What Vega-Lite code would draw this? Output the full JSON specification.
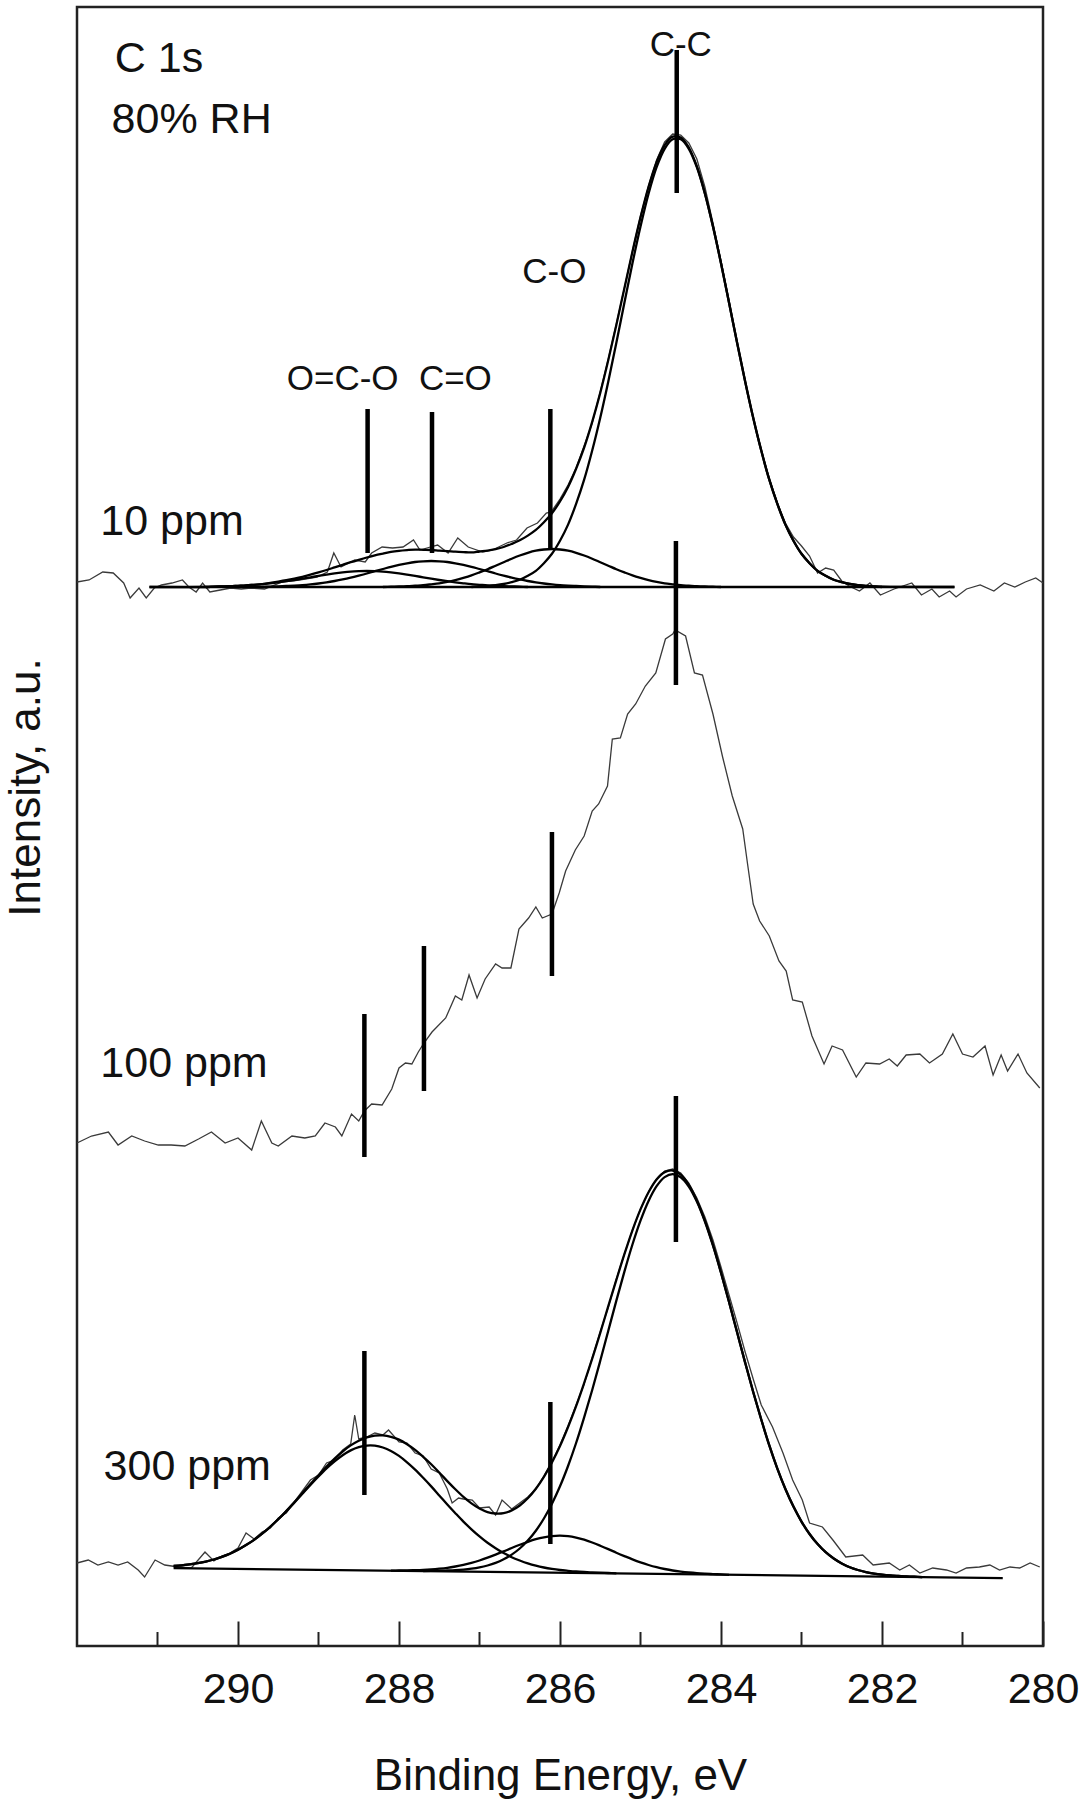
{
  "$schema": "https://vega.github.io/schema/vega-lite/v6.json",
  "width": 966,
  "height": 1639,
  "autosize": "none",
  "padding": {"left": 77, "top": 7, "right": 37, "bottom": 154},
  "background": "white",
  "config": {
    "font": "Liberation Sans",
    "view": {"stroke": "#222", "strokeWidth": 2.5}
  },
  "datasets": {
    "raw": [
      {"s":"r10","e":292.0,"i":1067},{"s":"r10","e":291.85,"i":1069},{"s":"r10","e":291.68,"i":1077},{"s":"r10","e":291.55,"i":1076},{"s":"r10","e":291.42,"i":1066},{"s":"r10","e":291.34,"i":1051},{"s":"r10","e":291.23,"i":1061},{"s":"r10","e":291.14,"i":1051},{"s":"r10","e":291.04,"i":1061},{"s":"r10","e":290.95,"i":1064},{"s":"r10","e":290.82,"i":1066},{"s":"r10","e":290.69,"i":1069},{"s":"r10","e":290.61,"i":1062},{"s":"r10","e":290.52,"i":1057},{"s":"r10","e":290.44,"i":1066},{"s":"r10","e":290.35,"i":1057},{"s":"r10","e":290.22,"i":1059},{"s":"r10","e":290.09,"i":1061},{"s":"r10","e":289.96,"i":1060},{"s":"r10","e":289.84,"i":1061},{"s":"r10","e":289.67,"i":1060},{"s":"r10","e":289.45,"i":1067},{"s":"r10","e":289.24,"i":1069},{"s":"r10","e":289.02,"i":1072},{"s":"r10","e":288.89,"i":1077},{"s":"r10","e":288.81,"i":1096},{"s":"r10","e":288.72,"i":1082},{"s":"r10","e":288.55,"i":1089},{"s":"r10","e":288.42,"i":1087},{"s":"r10","e":288.34,"i":1096},{"s":"r10","e":288.21,"i":1102},{"s":"r10","e":288.08,"i":1101},{"s":"r10","e":287.95,"i":1102},{"s":"r10","e":287.82,"i":1109},{"s":"r10","e":287.74,"i":1099},{"s":"r10","e":287.61,"i":1102},{"s":"r10","e":287.52,"i":1104},{"s":"r10","e":287.39,"i":1096},{"s":"r10","e":287.27,"i":1111},{"s":"r10","e":287.14,"i":1102},{"s":"r10","e":286.96,"i":1097},{"s":"r10","e":286.84,"i":1099},{"s":"r10","e":286.66,"i":1106},{"s":"r10","e":286.54,"i":1109},{"s":"r10","e":286.41,"i":1121},{"s":"r10","e":286.28,"i":1126},{"s":"r10","e":286.17,"i":1136},{"s":"r10","e":286.11,"i":1137},{"s":"r10","e":286.0,"i":1150},{"s":"r10","e":285.9,"i":1164},{"s":"r10","e":285.8,"i":1181},{"s":"r10","e":285.7,"i":1203},{"s":"r10","e":285.6,"i":1226},{"s":"r10","e":285.5,"i":1257},{"s":"r10","e":285.4,"i":1290},{"s":"r10","e":285.3,"i":1325},{"s":"r10","e":285.2,"i":1361},{"s":"r10","e":285.1,"i":1398},{"s":"r10","e":285.0,"i":1433},{"s":"r10","e":284.9,"i":1463},{"s":"r10","e":284.8,"i":1489},{"s":"r10","e":284.7,"i":1507},{"s":"r10","e":284.6,"i":1515},{"s":"r10","e":284.5,"i":1514},{"s":"r10","e":284.4,"i":1506},{"s":"r10","e":284.3,"i":1490},{"s":"r10","e":284.2,"i":1462},{"s":"r10","e":284.1,"i":1426},{"s":"r10","e":284.0,"i":1388},{"s":"r10","e":283.9,"i":1348},{"s":"r10","e":283.8,"i":1307},{"s":"r10","e":283.7,"i":1268},{"s":"r10","e":283.6,"i":1231},{"s":"r10","e":283.5,"i":1199},{"s":"r10","e":283.4,"i":1170},{"s":"r10","e":283.3,"i":1146},{"s":"r10","e":283.2,"i":1126},{"s":"r10","e":283.1,"i":1112},{"s":"r10","e":283.0,"i":1103},{"s":"r10","e":282.9,"i":1093},{"s":"r10","e":282.8,"i":1076},{"s":"r10","e":282.7,"i":1081},{"s":"r10","e":282.6,"i":1079},{"s":"r10","e":282.5,"i":1068},{"s":"r10","e":282.41,"i":1063},{"s":"r10","e":282.28,"i":1058},{"s":"r10","e":282.15,"i":1066},{"s":"r10","e":282.02,"i":1054},{"s":"r10","e":281.85,"i":1060},{"s":"r10","e":281.63,"i":1066},{"s":"r10","e":281.51,"i":1054},{"s":"r10","e":281.38,"i":1060},{"s":"r10","e":281.29,"i":1052},{"s":"r10","e":281.16,"i":1058},{"s":"r10","e":281.08,"i":1052},{"s":"r10","e":280.95,"i":1060},{"s":"r10","e":280.78,"i":1064},{"s":"r10","e":280.61,"i":1058},{"s":"r10","e":280.48,"i":1066},{"s":"r10","e":280.35,"i":1062},{"s":"r10","e":280.22,"i":1067},{"s":"r10","e":280.09,"i":1071},{"s":"r10","e":280.0,"i":1066},
      {"s":"r100","e":292.0,"i":506},{"s":"r100","e":291.82,"i":513},{"s":"r100","e":291.61,"i":517},{"s":"r100","e":291.49,"i":504},{"s":"r100","e":291.32,"i":513},{"s":"r100","e":291.16,"i":508},{"s":"r100","e":290.99,"i":504},{"s":"r100","e":290.83,"i":504},{"s":"r100","e":290.66,"i":503},{"s":"r100","e":290.49,"i":510},{"s":"r100","e":290.33,"i":517},{"s":"r100","e":290.16,"i":506},{"s":"r100","e":290.0,"i":511},{"s":"r100","e":289.83,"i":499},{"s":"r100","e":289.71,"i":528},{"s":"r100","e":289.58,"i":506},{"s":"r100","e":289.5,"i":503},{"s":"r100","e":289.33,"i":513},{"s":"r100","e":289.17,"i":511},{"s":"r100","e":289.04,"i":513},{"s":"r100","e":288.92,"i":526},{"s":"r100","e":288.79,"i":522},{"s":"r100","e":288.71,"i":513},{"s":"r100","e":288.59,"i":535},{"s":"r100","e":288.5,"i":528},{"s":"r100","e":288.43,"i":538},{"s":"r100","e":288.34,"i":545},{"s":"r100","e":288.21,"i":544},{"s":"r100","e":288.09,"i":560},{"s":"r100","e":288.0,"i":581},{"s":"r100","e":287.92,"i":586},{"s":"r100","e":287.84,"i":585},{"s":"r100","e":287.76,"i":597},{"s":"r100","e":287.69,"i":606},{"s":"r100","e":287.59,"i":617},{"s":"r100","e":287.42,"i":631},{"s":"r100","e":287.3,"i":653},{"s":"r100","e":287.22,"i":649},{"s":"r100","e":287.13,"i":674},{"s":"r100","e":287.03,"i":651},{"s":"r100","e":286.93,"i":670},{"s":"r100","e":286.8,"i":685},{"s":"r100","e":286.72,"i":681},{"s":"r100","e":286.61,"i":681},{"s":"r100","e":286.51,"i":720},{"s":"r100","e":286.39,"i":731},{"s":"r100","e":286.3,"i":742},{"s":"r100","e":286.22,"i":731},{"s":"r100","e":286.1,"i":735},{"s":"r100","e":286.01,"i":756},{"s":"r100","e":285.93,"i":778},{"s":"r100","e":285.81,"i":799},{"s":"r100","e":285.7,"i":813},{"s":"r100","e":285.6,"i":838},{"s":"r100","e":285.52,"i":845},{"s":"r100","e":285.41,"i":863},{"s":"r100","e":285.35,"i":910},{"s":"r100","e":285.25,"i":911},{"s":"r100","e":285.16,"i":935},{"s":"r100","e":285.06,"i":945},{"s":"r100","e":284.94,"i":963},{"s":"r100","e":284.81,"i":976},{"s":"r100","e":284.69,"i":1010},{"s":"r100","e":284.6,"i":1015},{"s":"r100","e":284.57,"i":1019},{"s":"r100","e":284.44,"i":1013},{"s":"r100","e":284.33,"i":976},{"s":"r100","e":284.23,"i":974},{"s":"r100","e":284.1,"i":935},{"s":"r100","e":283.98,"i":892},{"s":"r100","e":283.86,"i":853},{"s":"r100","e":283.73,"i":820},{"s":"r100","e":283.67,"i":785},{"s":"r100","e":283.6,"i":745},{"s":"r100","e":283.52,"i":728},{"s":"r100","e":283.4,"i":713},{"s":"r100","e":283.28,"i":688},{"s":"r100","e":283.19,"i":678},{"s":"r100","e":283.11,"i":649},{"s":"r100","e":282.99,"i":647},{"s":"r100","e":282.87,"i":613},{"s":"r100","e":282.72,"i":585},{"s":"r100","e":282.62,"i":603},{"s":"r100","e":282.49,"i":599},{"s":"r100","e":282.32,"i":572},{"s":"r100","e":282.2,"i":586},{"s":"r100","e":282.03,"i":585},{"s":"r100","e":281.91,"i":590},{"s":"r100","e":281.81,"i":583},{"s":"r100","e":281.7,"i":594},{"s":"r100","e":281.53,"i":595},{"s":"r100","e":281.41,"i":586},{"s":"r100","e":281.25,"i":595},{"s":"r100","e":281.12,"i":615},{"s":"r100","e":281.0,"i":595},{"s":"r100","e":280.87,"i":592},{"s":"r100","e":280.72,"i":603},{"s":"r100","e":280.62,"i":574},{"s":"r100","e":280.52,"i":594},{"s":"r100","e":280.44,"i":578},{"s":"r100","e":280.31,"i":595},{"s":"r100","e":280.2,"i":576},{"s":"r100","e":280.04,"i":561},
      {"s":"r300","e":292.0,"i":86},{"s":"r300","e":291.86,"i":89},{"s":"r300","e":291.74,"i":84},{"s":"r300","e":291.61,"i":87},{"s":"r300","e":291.49,"i":84},{"s":"r300","e":291.37,"i":87},{"s":"r300","e":291.24,"i":79},{"s":"r300","e":291.16,"i":72},{"s":"r300","e":291.03,"i":89},{"s":"r300","e":290.91,"i":84},{"s":"r300","e":290.74,"i":82},{"s":"r300","e":290.58,"i":81},{"s":"r300","e":290.41,"i":97},{"s":"r300","e":290.3,"i":88},{"s":"r300","e":290.2,"i":93},{"s":"r300","e":290.1,"i":96},{"s":"r300","e":290.0,"i":101},{"s":"r300","e":289.9,"i":116},{"s":"r300","e":289.8,"i":110},{"s":"r300","e":289.7,"i":117},{"s":"r300","e":289.6,"i":121},{"s":"r300","e":289.5,"i":131},{"s":"r300","e":289.4,"i":136},{"s":"r300","e":289.3,"i":147},{"s":"r300","e":289.2,"i":158},{"s":"r300","e":289.1,"i":169},{"s":"r300","e":289.0,"i":174},{"s":"r300","e":288.9,"i":186},{"s":"r300","e":288.8,"i":189},{"s":"r300","e":288.7,"i":199},{"s":"r300","e":288.6,"i":205},{"s":"r300","e":288.55,"i":234},{"s":"r300","e":288.5,"i":210},{"s":"r300","e":288.4,"i":212},{"s":"r300","e":288.3,"i":216},{"s":"r300","e":288.2,"i":214},{"s":"r300","e":288.13,"i":219},{"s":"r300","e":288.0,"i":207},{"s":"r300","e":287.9,"i":206},{"s":"r300","e":287.8,"i":196},{"s":"r300","e":287.7,"i":193},{"s":"r300","e":287.6,"i":180},{"s":"r300","e":287.5,"i":176},{"s":"r300","e":287.4,"i":160},{"s":"r300","e":287.34,"i":146},{"s":"r300","e":287.26,"i":151},{"s":"r300","e":287.2,"i":150},{"s":"r300","e":287.09,"i":149},{"s":"r300","e":287.0,"i":141},{"s":"r300","e":286.88,"i":142},{"s":"r300","e":286.8,"i":134},{"s":"r300","e":286.72,"i":149},{"s":"r300","e":286.6,"i":140},{"s":"r300","e":286.5,"i":146},{"s":"r300","e":286.4,"i":152},{"s":"r300","e":286.3,"i":160},{"s":"r300","e":286.2,"i":173},{"s":"r300","e":286.1,"i":187},{"s":"r300","e":286.0,"i":204},{"s":"r300","e":285.9,"i":223},{"s":"r300","e":285.8,"i":244},{"s":"r300","e":285.7,"i":265},{"s":"r300","e":285.6,"i":291},{"s":"r300","e":285.5,"i":317},{"s":"r300","e":285.4,"i":342},{"s":"r300","e":285.3,"i":370},{"s":"r300","e":285.2,"i":395},{"s":"r300","e":285.1,"i":419},{"s":"r300","e":285.0,"i":440},{"s":"r300","e":284.9,"i":457},{"s":"r300","e":284.8,"i":470},{"s":"r300","e":284.7,"i":478},{"s":"r300","e":284.6,"i":480},{"s":"r300","e":284.5,"i":476},{"s":"r300","e":284.4,"i":466},{"s":"r300","e":284.3,"i":451},{"s":"r300","e":284.2,"i":432},{"s":"r300","e":284.1,"i":409},{"s":"r300","e":284.0,"i":382},{"s":"r300","e":283.9,"i":354},{"s":"r300","e":283.8,"i":326},{"s":"r300","e":283.7,"i":297},{"s":"r300","e":283.6,"i":270},{"s":"r300","e":283.5,"i":244},{"s":"r300","e":283.36,"i":222},{"s":"r300","e":283.23,"i":196},{"s":"r300","e":283.11,"i":169},{"s":"r300","e":282.99,"i":149},{"s":"r300","e":282.9,"i":126},{"s":"r300","e":282.74,"i":122},{"s":"r300","e":282.61,"i":109},{"s":"r300","e":282.45,"i":92},{"s":"r300","e":282.24,"i":94},{"s":"r300","e":282.11,"i":84},{"s":"r300","e":281.91,"i":86},{"s":"r300","e":281.78,"i":79},{"s":"r300","e":281.66,"i":84},{"s":"r300","e":281.53,"i":76},{"s":"r300","e":281.37,"i":81},{"s":"r300","e":281.2,"i":79},{"s":"r300","e":281.08,"i":76},{"s":"r300","e":280.95,"i":81},{"s":"r300","e":280.79,"i":82},{"s":"r300","e":280.66,"i":84},{"s":"r300","e":280.54,"i":79},{"s":"r300","e":280.41,"i":82},{"s":"r300","e":280.29,"i":81},{"s":"r300","e":280.16,"i":86},{"s":"r300","e":280.04,"i":82}
    ],
    "fit": [
      {"c":"b10","e":291.1,"i":1062},{"c":"b10","e":281.1,"i":1062},
      {"c":"env10","e":291.1,"i":1062},{"c":"env10","e":290.4,"i":1062},{"c":"env10","e":290.3,"i":1062.4},{"c":"env10","e":290.2,"i":1062.6},{"c":"env10","e":290.1,"i":1062.8},{"c":"env10","e":290.0,"i":1063.2},{"c":"env10","e":289.9,"i":1063.6},{"c":"env10","e":289.8,"i":1064.2},{"c":"env10","e":289.7,"i":1064.8},{"c":"env10","e":289.6,"i":1066.1},{"c":"env10","e":289.5,"i":1067.4},{"c":"env10","e":289.4,"i":1068.8},{"c":"env10","e":289.3,"i":1070.4},{"c":"env10","e":289.2,"i":1072.2},{"c":"env10","e":289.1,"i":1074.3},{"c":"env10","e":289.0,"i":1076.6},{"c":"env10","e":288.9,"i":1079.0},{"c":"env10","e":288.8,"i":1081.6},{"c":"env10","e":288.7,"i":1084.2},{"c":"env10","e":288.6,"i":1086.8},{"c":"env10","e":288.5,"i":1089.2},{"c":"env10","e":288.4,"i":1091.5},{"c":"env10","e":288.3,"i":1093.6},{"c":"env10","e":288.2,"i":1095.4},{"c":"env10","e":288.1,"i":1097.1},{"c":"env10","e":288.0,"i":1098.2},{"c":"env10","e":287.9,"i":1098.9},{"c":"env10","e":287.8,"i":1099.4},{"c":"env10","e":287.7,"i":1099.2},{"c":"env10","e":287.6,"i":1099.0},{"c":"env10","e":287.5,"i":1098.4},{"c":"env10","e":287.4,"i":1097.9},{"c":"env10","e":287.3,"i":1097.3},{"c":"env10","e":287.2,"i":1096.9},{"c":"env10","e":287.1,"i":1096.6},{"c":"env10","e":287.0,"i":1097.5},{"c":"env10","e":286.9,"i":1098.4},{"c":"env10","e":286.8,"i":1099.9},{"c":"env10","e":286.7,"i":1102.0},{"c":"env10","e":286.6,"i":1105.1},{"c":"env10","e":286.5,"i":1108.7},{"c":"env10","e":286.4,"i":1113.4},{"c":"env10","e":286.3,"i":1119.1},{"c":"env10","e":286.2,"i":1126.8},{"c":"env10","e":286.1,"i":1135.8},{"c":"env10","e":286.0,"i":1147.6},{"c":"env10","e":285.9,"i":1162.1},{"c":"env10","e":285.8,"i":1180.3},{"c":"env10","e":285.7,"i":1201.5},{"c":"env10","e":285.6,"i":1227.2},{"c":"env10","e":285.5,"i":1256.1},{"c":"env10","e":285.4,"i":1288.9},{"c":"env10","e":285.3,"i":1324.1},{"c":"env10","e":285.2,"i":1360.8},{"c":"env10","e":285.1,"i":1397.3},{"c":"env10","e":285.0,"i":1431.6},{"c":"env10","e":284.9,"i":1462.2},{"c":"env10","e":284.8,"i":1486.9},{"c":"env10","e":284.7,"i":1503.9},{"c":"env10","e":284.6,"i":1512.4},{"c":"env10","e":284.5,"i":1511.5},{"c":"env10","e":284.4,"i":1501.5},{"c":"env10","e":284.3,"i":1482.6},{"c":"env10","e":284.2,"i":1455.8},{"c":"env10","e":284.1,"i":1422.8},{"c":"env10","e":284.0,"i":1385.7},{"c":"env10","e":283.9,"i":1346.2},{"c":"env10","e":283.8,"i":1306.3},{"c":"env10","e":283.7,"i":1267.6},{"c":"env10","e":283.6,"i":1231.3},{"c":"env10","e":283.5,"i":1198.5},{"c":"env10","e":283.4,"i":1169.3},{"c":"env10","e":283.3,"i":1145.1},{"c":"env10","e":283.2,"i":1124.4},{"c":"env10","e":283.1,"i":1108.2},{"c":"env10","e":283.0,"i":1095.2},{"c":"env10","e":282.9,"i":1085.8},{"c":"env10","e":282.8,"i":1078.2},{"c":"env10","e":282.7,"i":1073.2},{"c":"env10","e":282.6,"i":1069.2},{"c":"env10","e":282.5,"i":1066.8},{"c":"env10","e":282.4,"i":1065.0},{"c":"env10","e":282.3,"i":1063.9},{"c":"env10","e":282.2,"i":1063.2},{"c":"env10","e":282.1,"i":1062.7},{"c":"env10","e":282.0,"i":1062.3},{"c":"env10","e":281.1,"i":1062},
      {"c":"cc10","e":287.1,"i":1062.0},{"c":"cc10","e":287.0,"i":1062.7},{"c":"cc10","e":286.9,"i":1063.2},{"c":"cc10","e":286.8,"i":1063.9},{"c":"cc10","e":286.7,"i":1065.0},{"c":"cc10","e":286.6,"i":1066.8},{"c":"cc10","e":286.5,"i":1069.2},{"c":"cc10","e":286.4,"i":1073.2},{"c":"cc10","e":286.3,"i":1078.2},{"c":"cc10","e":286.2,"i":1085.8},{"c":"cc10","e":286.1,"i":1095.2},{"c":"cc10","e":286.0,"i":1108.2},{"c":"cc10","e":285.9,"i":1124.4},{"c":"cc10","e":285.8,"i":1145.1},{"c":"cc10","e":285.7,"i":1169.3},{"c":"cc10","e":285.6,"i":1198.5},{"c":"cc10","e":285.5,"i":1231.3},{"c":"cc10","e":285.4,"i":1267.6},{"c":"cc10","e":285.3,"i":1306.3},{"c":"cc10","e":285.2,"i":1346.2},{"c":"cc10","e":285.1,"i":1385.7},{"c":"cc10","e":285.0,"i":1422.5},{"c":"cc10","e":284.9,"i":1455.3},{"c":"cc10","e":284.8,"i":1481.8},{"c":"cc10","e":284.7,"i":1500.2},{"c":"cc10","e":284.6,"i":1509.7},{"c":"cc10","e":284.5,"i":1509.7},{"c":"cc10","e":284.4,"i":1500.2},{"c":"cc10","e":284.3,"i":1481.8},{"c":"cc10","e":284.2,"i":1455.3},{"c":"cc10","e":284.1,"i":1422.5},{"c":"cc10","e":284.0,"i":1385.7},{"c":"cc10","e":283.9,"i":1346.2},{"c":"cc10","e":283.8,"i":1306.3},{"c":"cc10","e":283.7,"i":1267.6},{"c":"cc10","e":283.6,"i":1231.3},{"c":"cc10","e":283.5,"i":1198.5},{"c":"cc10","e":283.4,"i":1169.3},{"c":"cc10","e":283.3,"i":1145.1},{"c":"cc10","e":283.2,"i":1124.4},{"c":"cc10","e":283.1,"i":1108.2},{"c":"cc10","e":283.0,"i":1095.2},{"c":"cc10","e":282.9,"i":1085.8},{"c":"cc10","e":282.8,"i":1078.2},{"c":"cc10","e":282.7,"i":1073.2},{"c":"cc10","e":282.6,"i":1069.2},{"c":"cc10","e":282.5,"i":1066.8},{"c":"cc10","e":282.4,"i":1065.0},{"c":"cc10","e":282.3,"i":1063.9},{"c":"cc10","e":282.2,"i":1063.2},{"c":"cc10","e":282.1,"i":1062.7},{"c":"cc10","e":282.0,"i":1062.0},
      {"c":"co10","e":288.2,"i":1062.0},{"c":"co10","e":288.1,"i":1062.3},{"c":"co10","e":288.0,"i":1062.5},{"c":"co10","e":287.9,"i":1062.8},{"c":"co10","e":287.8,"i":1063.3},{"c":"co10","e":287.7,"i":1063.8},{"c":"co10","e":287.6,"i":1064.7},{"c":"co10","e":287.5,"i":1065.7},{"c":"co10","e":287.4,"i":1067.1},{"c":"co10","e":287.3,"i":1068.9},{"c":"co10","e":287.2,"i":1071.1},{"c":"co10","e":287.1,"i":1073.6},{"c":"co10","e":287.0,"i":1076.6},{"c":"co10","e":286.9,"i":1079.8},{"c":"co10","e":286.8,"i":1083.3},{"c":"co10","e":286.7,"i":1086.8},{"c":"co10","e":286.6,"i":1090.3},{"c":"co10","e":286.5,"i":1093.5},{"c":"co10","e":286.4,"i":1096.2},{"c":"co10","e":286.3,"i":1098.3},{"c":"co10","e":286.2,"i":1099.5},{"c":"co10","e":286.1,"i":1100.0},{"c":"co10","e":286.0,"i":1099.5},{"c":"co10","e":285.9,"i":1098.3},{"c":"co10","e":285.8,"i":1096.2},{"c":"co10","e":285.7,"i":1093.5},{"c":"co10","e":285.6,"i":1090.3},{"c":"co10","e":285.5,"i":1086.8},{"c":"co10","e":285.4,"i":1083.3},{"c":"co10","e":285.3,"i":1079.8},{"c":"co10","e":285.2,"i":1076.6},{"c":"co10","e":285.1,"i":1073.6},{"c":"co10","e":285.0,"i":1071.1},{"c":"co10","e":284.9,"i":1068.9},{"c":"co10","e":284.8,"i":1067.1},{"c":"co10","e":284.7,"i":1065.7},{"c":"co10","e":284.6,"i":1064.7},{"c":"co10","e":284.5,"i":1063.8},{"c":"co10","e":284.4,"i":1063.3},{"c":"co10","e":284.3,"i":1062.8},{"c":"co10","e":284.2,"i":1062.5},{"c":"co10","e":284.1,"i":1062.3},{"c":"co10","e":284.0,"i":1062.0},
      {"c":"cdo10","e":289.7,"i":1062.0},{"c":"cdo10","e":289.6,"i":1062.4},{"c":"cdo10","e":289.5,"i":1062.7},{"c":"cdo10","e":289.4,"i":1063.0},{"c":"cdo10","e":289.3,"i":1063.4},{"c":"cdo10","e":289.2,"i":1063.9},{"c":"cdo10","e":289.1,"i":1064.6},{"c":"cdo10","e":289.0,"i":1065.5},{"c":"cdo10","e":288.9,"i":1066.6},{"c":"cdo10","e":288.8,"i":1068.0},{"c":"cdo10","e":288.7,"i":1069.6},{"c":"cdo10","e":288.6,"i":1071.4},{"c":"cdo10","e":288.5,"i":1073.4},{"c":"cdo10","e":288.4,"i":1075.5},{"c":"cdo10","e":288.3,"i":1077.8},{"c":"cdo10","e":288.2,"i":1080.0},{"c":"cdo10","e":288.1,"i":1082.2},{"c":"cdo10","e":288.0,"i":1084.1},{"c":"cdo10","e":287.9,"i":1085.7},{"c":"cdo10","e":287.8,"i":1087.0},{"c":"cdo10","e":287.7,"i":1087.7},{"c":"cdo10","e":287.6,"i":1088.0},{"c":"cdo10","e":287.5,"i":1087.7},{"c":"cdo10","e":287.4,"i":1087.0},{"c":"cdo10","e":287.3,"i":1085.7},{"c":"cdo10","e":287.2,"i":1084.1},{"c":"cdo10","e":287.1,"i":1082.2},{"c":"cdo10","e":287.0,"i":1080.0},{"c":"cdo10","e":286.9,"i":1077.8},{"c":"cdo10","e":286.8,"i":1075.5},{"c":"cdo10","e":286.7,"i":1073.4},{"c":"cdo10","e":286.6,"i":1071.4},{"c":"cdo10","e":286.5,"i":1069.6},{"c":"cdo10","e":286.4,"i":1068.0},{"c":"cdo10","e":286.3,"i":1066.6},{"c":"cdo10","e":286.2,"i":1065.5},{"c":"cdo10","e":286.1,"i":1064.6},{"c":"cdo10","e":286.0,"i":1063.9},{"c":"cdo10","e":285.9,"i":1063.4},{"c":"cdo10","e":285.8,"i":1063.0},{"c":"cdo10","e":285.7,"i":1062.7},{"c":"cdo10","e":285.6,"i":1062.4},{"c":"cdo10","e":285.5,"i":1062.0},
      {"c":"oco10","e":290.4,"i":1062.0},{"c":"oco10","e":290.3,"i":1062.4},{"c":"oco10","e":290.2,"i":1062.6},{"c":"oco10","e":290.1,"i":1062.8},{"c":"oco10","e":290.0,"i":1063.2},{"c":"oco10","e":289.9,"i":1063.6},{"c":"oco10","e":289.8,"i":1064.2},{"c":"oco10","e":289.7,"i":1064.8},{"c":"oco10","e":289.6,"i":1065.7},{"c":"oco10","e":289.5,"i":1066.7},{"c":"oco10","e":289.4,"i":1067.8},{"c":"oco10","e":289.3,"i":1069.0},{"c":"oco10","e":289.2,"i":1070.3},{"c":"oco10","e":289.1,"i":1071.7},{"c":"oco10","e":289.0,"i":1073.1},{"c":"oco10","e":288.9,"i":1074.4},{"c":"oco10","e":288.8,"i":1075.6},{"c":"oco10","e":288.7,"i":1076.6},{"c":"oco10","e":288.6,"i":1077.4},{"c":"oco10","e":288.5,"i":1077.8},{"c":"oco10","e":288.4,"i":1078.0},{"c":"oco10","e":288.3,"i":1077.8},{"c":"oco10","e":288.2,"i":1077.4},{"c":"oco10","e":288.1,"i":1076.6},{"c":"oco10","e":288.0,"i":1075.6},{"c":"oco10","e":287.9,"i":1074.4},{"c":"oco10","e":287.8,"i":1073.1},{"c":"oco10","e":287.7,"i":1071.7},{"c":"oco10","e":287.6,"i":1070.3},{"c":"oco10","e":287.5,"i":1069.0},{"c":"oco10","e":287.4,"i":1067.8},{"c":"oco10","e":287.3,"i":1066.7},{"c":"oco10","e":287.2,"i":1065.7},{"c":"oco10","e":287.1,"i":1064.8},{"c":"oco10","e":287.0,"i":1064.2},{"c":"oco10","e":286.9,"i":1063.6},{"c":"oco10","e":286.8,"i":1063.2},{"c":"oco10","e":286.7,"i":1062.8},{"c":"oco10","e":286.6,"i":1062.6},{"c":"oco10","e":286.5,"i":1062.4},{"c":"oco10","e":286.4,"i":1062.0},
      {"c":"b300","e":290.8,"i":80.9},{"c":"b300","e":280.5,"i":70.9},
      {"c":"oco300","e":290.8,"i":83.0},{"c":"oco300","e":290.7,"i":83.6},{"c":"oco300","e":290.6,"i":84.6},{"c":"oco300","e":290.5,"i":85.8},{"c":"oco300","e":290.4,"i":87.4},{"c":"oco300","e":290.3,"i":89.5},{"c":"oco300","e":290.2,"i":92.2},{"c":"oco300","e":290.1,"i":95.3},{"c":"oco300","e":290.0,"i":99.2},{"c":"oco300","e":289.9,"i":103.9},{"c":"oco300","e":289.8,"i":109.1},{"c":"oco300","e":289.7,"i":115.3},{"c":"oco300","e":289.6,"i":122.2},{"c":"oco300","e":289.5,"i":129.7},{"c":"oco300","e":289.4,"i":137.9},{"c":"oco300","e":289.3,"i":146.4},{"c":"oco300","e":289.2,"i":155.3},{"c":"oco300","e":289.1,"i":164.1},{"c":"oco300","e":289.0,"i":172.5},{"c":"oco300","e":288.9,"i":180.5},{"c":"oco300","e":288.8,"i":187.6},{"c":"oco300","e":288.7,"i":193.8},{"c":"oco300","e":288.6,"i":198.6},{"c":"oco300","e":288.5,"i":201.8},{"c":"oco300","e":288.4,"i":203.4},{"c":"oco300","e":288.3,"i":203.3},{"c":"oco300","e":288.2,"i":201.5},{"c":"oco300","e":288.1,"i":198.1},{"c":"oco300","e":288.0,"i":193.1},{"c":"oco300","e":287.9,"i":186.7},{"c":"oco300","e":287.8,"i":179.4},{"c":"oco300","e":287.7,"i":171.2},{"c":"oco300","e":287.6,"i":162.6},{"c":"oco300","e":287.5,"i":153.6},{"c":"oco300","e":287.4,"i":144.5},{"c":"oco300","e":287.3,"i":135.8},{"c":"oco300","e":287.2,"i":127.4},{"c":"oco300","e":287.1,"i":119.7},{"c":"oco300","e":287.0,"i":112.6},{"c":"oco300","e":286.9,"i":106.2},{"c":"oco300","e":286.8,"i":100.8},{"c":"oco300","e":286.7,"i":95.9},{"c":"oco300","e":286.6,"i":91.8},{"c":"oco300","e":286.5,"i":88.5},{"c":"oco300","e":286.4,"i":85.6},{"c":"oco300","e":286.3,"i":83.3},{"c":"oco300","e":286.2,"i":81.5},{"c":"oco300","e":286.1,"i":80.1},{"c":"oco300","e":286.0,"i":79.0},{"c":"oco300","e":285.9,"i":78.2},{"c":"oco300","e":285.8,"i":77.5},{"c":"oco300","e":285.7,"i":77.0},{"c":"oco300","e":285.6,"i":76.6},{"c":"oco300","e":285.5,"i":76.3},{"c":"oco300","e":285.4,"i":76.0},{"c":"oco300","e":285.3,"i":75.6},
      {"c":"co300","e":288.1,"i":78.3},{"c":"co300","e":288.0,"i":78.5},{"c":"co300","e":287.9,"i":78.6},{"c":"co300","e":287.8,"i":78.8},{"c":"co300","e":287.7,"i":79.1},{"c":"co300","e":287.6,"i":79.6},{"c":"co300","e":287.5,"i":80.3},{"c":"co300","e":287.4,"i":81.2},{"c":"co300","e":287.3,"i":82.5},{"c":"co300","e":287.2,"i":84.1},{"c":"co300","e":287.1,"i":86.1},{"c":"co300","e":287.0,"i":88.5},{"c":"co300","e":286.9,"i":91.3},{"c":"co300","e":286.8,"i":94.4},{"c":"co300","e":286.7,"i":97.6},{"c":"co300","e":286.6,"i":101.0},{"c":"co300","e":286.5,"i":104.2},{"c":"co300","e":286.4,"i":107.2},{"c":"co300","e":286.3,"i":109.8},{"c":"co300","e":286.2,"i":111.7},{"c":"co300","e":286.1,"i":112.9},{"c":"co300","e":286.0,"i":113.3},{"c":"co300","e":285.9,"i":112.8},{"c":"co300","e":285.8,"i":111.4},{"c":"co300","e":285.7,"i":109.3},{"c":"co300","e":285.6,"i":106.5},{"c":"co300","e":285.5,"i":103.3},{"c":"co300","e":285.4,"i":99.9},{"c":"co300","e":285.3,"i":96.3},{"c":"co300","e":285.2,"i":92.9},{"c":"co300","e":285.1,"i":89.6},{"c":"co300","e":285.0,"i":86.6},{"c":"co300","e":284.9,"i":84.0},{"c":"co300","e":284.8,"i":81.8},{"c":"co300","e":284.7,"i":80.0},{"c":"co300","e":284.6,"i":78.5},{"c":"co300","e":284.5,"i":77.4},{"c":"co300","e":284.4,"i":76.5},{"c":"co300","e":284.3,"i":75.8},{"c":"co300","e":284.2,"i":75.3},{"c":"co300","e":284.1,"i":74.9},{"c":"co300","e":284.0,"i":74.6},{"c":"co300","e":283.9,"i":74.2},
      {"c":"cc300","e":287.7,"i":77.9},{"c":"cc300","e":287.6,"i":78.2},{"c":"cc300","e":287.5,"i":78.3},{"c":"cc300","e":287.4,"i":78.5},{"c":"cc300","e":287.3,"i":78.8},{"c":"cc300","e":287.2,"i":79.4},{"c":"cc300","e":287.1,"i":80.3},{"c":"cc300","e":287.0,"i":81.6},{"c":"cc300","e":286.9,"i":83.5},{"c":"cc300","e":286.8,"i":86.1},{"c":"cc300","e":286.7,"i":89.7},{"c":"cc300","e":286.6,"i":94.4},{"c":"cc300","e":286.5,"i":100.5},{"c":"cc300","e":286.4,"i":108.4},{"c":"cc300","e":286.3,"i":118.3},{"c":"cc300","e":286.2,"i":130.5},{"c":"cc300","e":286.1,"i":145.3},{"c":"cc300","e":286.0,"i":162.7},{"c":"cc300","e":285.9,"i":183.0},{"c":"cc300","e":285.8,"i":206.0},{"c":"cc300","e":285.7,"i":231.7},{"c":"cc300","e":285.6,"i":259.0},{"c":"cc300","e":285.5,"i":288.2},{"c":"cc300","e":285.4,"i":318.3},{"c":"cc300","e":285.3,"i":348.4},{"c":"cc300","e":285.2,"i":377.4},{"c":"cc300","e":285.1,"i":404.5},{"c":"cc300","e":285.0,"i":428.3},{"c":"cc300","e":284.9,"i":448.0},{"c":"cc300","e":284.8,"i":462.8},{"c":"cc300","e":284.7,"i":471.9},{"c":"cc300","e":284.6,"i":474.9},{"c":"cc300","e":284.5,"i":471.7},{"c":"cc300","e":284.4,"i":462.4},{"c":"cc300","e":284.3,"i":447.4},{"c":"cc300","e":284.2,"i":427.5},{"c":"cc300","e":284.1,"i":403.5},{"c":"cc300","e":284.0,"i":376.2},{"c":"cc300","e":283.9,"i":347.0},{"c":"cc300","e":283.8,"i":316.7},{"c":"cc300","e":283.7,"i":286.4},{"c":"cc300","e":283.6,"i":257.0},{"c":"cc300","e":283.5,"i":229.5},{"c":"cc300","e":283.4,"i":203.6},{"c":"cc300","e":283.3,"i":180.4},{"c":"cc300","e":283.2,"i":160.0},{"c":"cc300","e":283.1,"i":142.4},{"c":"cc300","e":283.0,"i":127.4},{"c":"cc300","e":282.9,"i":115.0},{"c":"cc300","e":282.8,"i":104.9},{"c":"cc300","e":282.7,"i":96.8},{"c":"cc300","e":282.6,"i":90.5},{"c":"cc300","e":282.5,"i":85.6},{"c":"cc300","e":282.4,"i":81.8},{"c":"cc300","e":282.3,"i":79.0},{"c":"cc300","e":282.2,"i":76.9},{"c":"cc300","e":282.1,"i":75.4},{"c":"cc300","e":282.0,"i":74.3},{"c":"cc300","e":281.9,"i":73.5},{"c":"cc300","e":281.8,"i":73.0},{"c":"cc300","e":281.7,"i":72.6},{"c":"cc300","e":281.6,"i":72.3},{"c":"cc300","e":281.5,"i":71.8},
      {"c":"env300","e":290.8,"i":83.0},{"c":"env300","e":290.7,"i":83.6},{"c":"env300","e":290.6,"i":84.6},{"c":"env300","e":290.5,"i":85.8},{"c":"env300","e":290.4,"i":87.4},{"c":"env300","e":290.3,"i":89.5},{"c":"env300","e":290.2,"i":92.2},{"c":"env300","e":290.1,"i":95.3},{"c":"env300","e":290.0,"i":99.2},{"c":"env300","e":289.9,"i":103.9},{"c":"env300","e":289.8,"i":109.1},{"c":"env300","e":289.7,"i":115.3},{"c":"env300","e":289.6,"i":122.2},{"c":"env300","e":289.5,"i":129.7},{"c":"env300","e":289.4,"i":137.9},{"c":"env300","e":289.3,"i":146.8},{"c":"env300","e":289.2,"i":155.9},{"c":"env300","e":289.1,"i":165.0},{"c":"env300","e":289.0,"i":173.8},{"c":"env300","e":288.9,"i":182.4},{"c":"env300","e":288.8,"i":190.3},{"c":"env300","e":288.7,"i":197.5},{"c":"env300","e":288.6,"i":203.6},{"c":"env300","e":288.5,"i":208.3},{"c":"env300","e":288.4,"i":211.6},{"c":"env300","e":288.3,"i":213.4},{"c":"env300","e":288.2,"i":213.6},{"c":"env300","e":288.1,"i":212.2},{"c":"env300","e":288.0,"i":209.4},{"c":"env300","e":287.9,"i":204.8},{"c":"env300","e":287.8,"i":199.1},{"c":"env300","e":287.7,"i":192.2},{"c":"env300","e":287.6,"i":184.8},{"c":"env300","e":287.5,"i":176.5},{"c":"env300","e":287.4,"i":167.9},{"c":"env300","e":287.3,"i":159.7},{"c":"env300","e":287.2,"i":152.1},{"c":"env300","e":287.1,"i":145.6},{"c":"env300","e":287.0,"i":140.4},{"c":"env300","e":286.9,"i":136.9},{"c":"env300","e":286.8,"i":135.5},{"c":"env300","e":286.7,"i":135.9},{"c":"env300","e":286.6,"i":138.6},{"c":"env300","e":286.5,"i":143.5},{"c":"env300","e":286.4,"i":150.7},{"c":"env300","e":286.3,"i":160.3},{"c":"env300","e":286.2,"i":172.2},{"c":"env300","e":286.1,"i":186.6},{"c":"env300","e":286.0,"i":203.0},{"c":"env300","e":285.9,"i":222.0},{"c":"env300","e":285.8,"i":242.9},{"c":"env300","e":285.7,"i":266.0},{"c":"env300","e":285.6,"i":290.3},{"c":"env300","e":285.5,"i":316.2},{"c":"env300","e":285.4,"i":342.8},{"c":"env300","e":285.3,"i":369.1},{"c":"env300","e":285.2,"i":394.8},{"c":"env300","e":285.1,"i":418.7},{"c":"env300","e":285.0,"i":439.6},{"c":"env300","e":284.9,"i":456.8},{"c":"env300","e":284.8,"i":469.5},{"c":"env300","e":284.7,"i":476.9},{"c":"env300","e":284.6,"i":478.5},{"c":"env300","e":284.5,"i":474.3},{"c":"env300","e":284.4,"i":464.2},{"c":"env300","e":284.3,"i":448.6},{"c":"env300","e":284.2,"i":428.3},{"c":"env300","e":284.1,"i":404.0},{"c":"env300","e":284.0,"i":376.5},{"c":"env300","e":283.9,"i":347.0},{"c":"env300","e":283.8,"i":316.7},{"c":"env300","e":283.7,"i":286.4},{"c":"env300","e":283.6,"i":257.0},{"c":"env300","e":283.5,"i":229.5},{"c":"env300","e":283.4,"i":203.6},{"c":"env300","e":283.3,"i":180.4},{"c":"env300","e":283.2,"i":160.0},{"c":"env300","e":283.1,"i":142.4},{"c":"env300","e":283.0,"i":127.4},{"c":"env300","e":282.9,"i":115.0},{"c":"env300","e":282.8,"i":104.9},{"c":"env300","e":282.7,"i":96.8},{"c":"env300","e":282.6,"i":90.5},{"c":"env300","e":282.5,"i":85.6},{"c":"env300","e":282.4,"i":81.8},{"c":"env300","e":282.3,"i":79.0},{"c":"env300","e":282.2,"i":76.9},{"c":"env300","e":282.1,"i":75.4},{"c":"env300","e":282.0,"i":74.3},{"c":"env300","e":281.9,"i":73.5},{"c":"env300","e":281.8,"i":73.0},{"c":"env300","e":281.7,"i":72.6},{"c":"env300","e":281.6,"i":72.3},{"c":"env300","e":281.5,"i":71.8}
    ],
    "markers": [
      {"e":288.39,"i":1096,"i2":1240},{"e":287.59,"i":1096,"i2":1237},{"e":286.12,"i":1099,"i2":1240},{"e":284.55,"i":1456,"i2":1599},
      {"e":288.43,"i":492,"i2":635},{"e":287.69,"i":558,"i2":703},{"e":286.1,"i":673,"i2":817},{"e":284.56,"i":964,"i2":1108},
      {"e":288.43,"i":154,"i2":298},{"e":286.12,"i":105,"i2":247},{"e":284.56,"i":407,"i2":553}
    ],
    "peaklabels": [
      {"e":284.5,"i":1593,"t":"C-C"},
      {"e":286.07,"i":1366,"t":"C-O"},
      {"e":288.7,"i":1259,"t":"O=C-O"},
      {"e":287.3,"i":1259,"t":"C=O"}
    ],
    "notes": [
      {"e":291.53,"i":1577,"t":"C 1s"},
      {"e":291.57,"i":1516,"t":"80% RH"},
      {"e":291.71,"i":1114,"t":"10 ppm"},
      {"e":291.71,"i":572,"t":"100 ppm"},
      {"e":291.67,"i":169,"t":"300 ppm"}
    ],
    "minor": [
      {"e":281},{"e":283},{"e":285},{"e":287},{"e":289},{"e":291}
    ]
  },
  "encoding": {
    "x": {
      "field": "e",
      "type": "quantitative",
      "scale": {"domain": [280, 292], "reverse": true, "nice": false, "zero": false},
      "axis": {
        "values": [280, 282, 284, 286, 288, 290],
        "format": "d",
        "grid": false,
        "domain": false,
        "tickSize": -25,
        "tickWidth": 2,
        "tickColor": "#222",
        "labelFontSize": 43,
        "labelColor": "#111",
        "labelPadding": 47,
        "labelFlush": false,
        "labelOverlap": false,
        "title": "Binding Energy, eV",
        "titleFontSize": 44,
        "titleFontWeight": "normal",
        "titleColor": "#111",
        "titleBaseline": "alphabetic",
        "titleY": 143
      }
    }
  },
  "layer": [
    {
      "data": {"name": "raw"},
      "mark": {"type": "line", "color": "#3a3a3a", "strokeWidth": 1.3},
      "encoding": {
        "y": {
          "field": "i",
          "type": "quantitative",
          "scale": {"domain": [3, 1642], "nice": false, "zero": false},
          "axis": {
            "ticks": false,
            "labels": false,
            "domain": false,
            "grid": false,
            "title": "Intensity, a.u.",
            "titleFontSize": 44,
            "titleFontWeight": "normal",
            "titleColor": "#111",
            "titleBaseline": "alphabetic",
            "titleX": -38,
            "titleY": 780
          }
        },
        "detail": {"field": "s"}
      }
    },
    {
      "data": {"name": "fit"},
      "mark": {"type": "line", "color": "#000", "strokeWidth": 2.3, "interpolate": "catmull-rom"},
      "encoding": {
        "y": {"field": "i", "type": "quantitative"},
        "detail": {"field": "c"}
      }
    },
    {
      "data": {"name": "markers"},
      "mark": {"type": "rule", "color": "#000", "strokeWidth": 4.5},
      "encoding": {
        "y": {"field": "i", "type": "quantitative"},
        "y2": {"field": "i2"}
      }
    },
    {
      "data": {"name": "peaklabels"},
      "mark": {"type": "text", "align": "center", "baseline": "alphabetic", "fontSize": 35, "color": "#111"},
      "encoding": {
        "y": {"field": "i", "type": "quantitative"},
        "text": {"field": "t"}
      }
    },
    {
      "data": {"name": "notes"},
      "mark": {"type": "text", "align": "left", "baseline": "alphabetic", "fontSize": 43, "color": "#111"},
      "encoding": {
        "y": {"field": "i", "type": "quantitative"},
        "text": {"field": "t"}
      }
    },
    {
      "data": {"name": "minor"},
      "mark": {"type": "rule", "color": "#222", "strokeWidth": 2},
      "encoding": {
        "y": {"datum": 3},
        "y2": {"datum": 17}
      }
    }
  ]
}
